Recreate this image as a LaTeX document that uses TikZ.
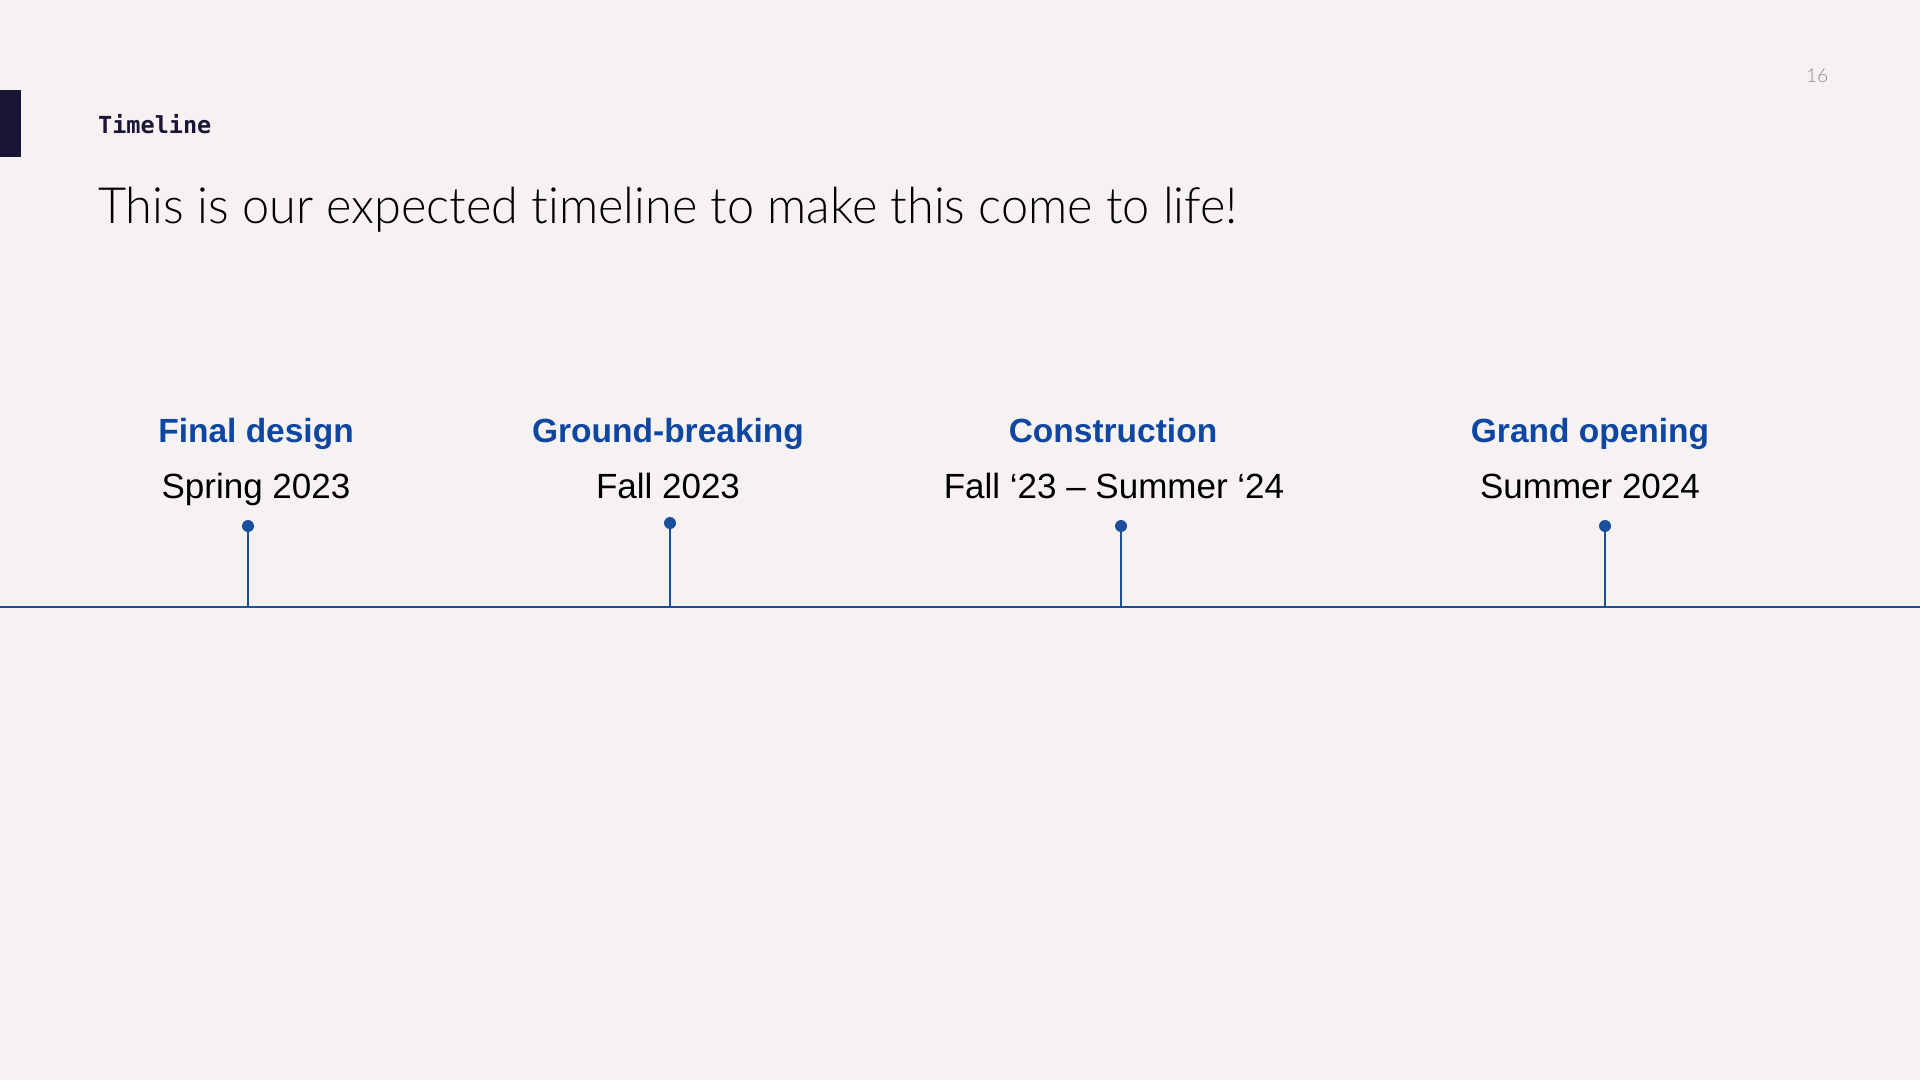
\documentclass[tikz,border=0pt]{standalone}
\usepackage{fontspec}
\setmainfont{Liberation Sans}
\newfontfamily\monob{DejaVu Sans Mono}[BoldFont={DejaVu Sans Mono Bold}]
\newfontfamily\lightfont{Lato Light}[Ligatures=NoCommon, FakeStretch=0.973]
\newfontfamily\lightnum{Lato Light}
\definecolor{bg}{HTML}{F6F2F2}
\definecolor{navy}{HTML}{1A1535}
\definecolor{hblue}{HTML}{0D47A1}
\definecolor{lblue}{HTML}{1B4F9C}
\definecolor{pgray}{HTML}{8C8C8C}
\tikzset{
  heading/.style={anchor=base, text=hblue, inner sep=0pt, font=\fontsize{33.5}{40}\selectfont\bfseries},
  datelbl/.style={anchor=base, text=black, inner sep=0pt, font=\fontsize{35}{42}\selectfont},
  dot/.style={circle, fill=lblue, draw=none, inner sep=0pt, minimum size=12pt},
  stem/.style={draw=lblue, line width=2pt},
  axis/.style={draw=lblue, line width=2pt}
}
\begin{document}
\begin{tikzpicture}[x=1pt, y=-1pt]
\useasboundingbox (0,0) rectangle (1920,1080);
\fill[bg] (0,0) rectangle (1920,1080);
% side marker
\fill[navy] (0,90) rectangle (21,157);
\node[anchor=base west, inner sep=0pt, text=navy, font=\monob\bfseries\fontsize{23.5}{28}\selectfont] (kicker) at (98,133) {Timeline};
\node[anchor=base west, inner sep=0pt, font=\lightfont\fontsize{50}{58}\selectfont] (title) at (98,223) {This is our expected timeline to make this come to life!};
\node[anchor=base west, inner sep=0pt, text=pgray, font=\lightnum\fontsize{19}{22}\selectfont] (pagenum) at (1806,82) {16};
% axis
\coordinate (L) at (0,607);
\coordinate (R) at (1920,607);
\draw[axis] (L) -- (R);
% milestones
\node[heading] (h1) at (256,442) {Final design};
\node[datelbl] (d1) at (256,498) {Spring 2023};
\node[dot] (p1) at (248,526) {};
\coordinate (b1) at (248,607);
\draw[stem] (p1.center) -- (b1);

\node[heading] (h2) at (668,442) {Ground-breaking};
\node[datelbl] (d2) at (668,498) {Fall 2023};
\node[dot] (p2) at (670,523) {};
\coordinate (b2) at (670,607);
\draw[stem] (p2.center) -- (b2);

\node[heading] (h3) at (1113,442) {Construction};
\node[datelbl] (d3) at (1114,498) {Fall ‘23 – Summer ‘24};
\node[dot] (p3) at (1121,526) {};
\coordinate (b3) at (1121,607);
\draw[stem] (p3.center) -- (b3);

\node[heading] (h4) at (1590,442) {Grand opening};
\node[datelbl] (d4) at (1590,498) {Summer 2024};
\node[dot] (p4) at (1605,526) {};
\coordinate (b4) at (1605,607);
\draw[stem] (p4.center) -- (b4);
\end{tikzpicture}
\end{document}
